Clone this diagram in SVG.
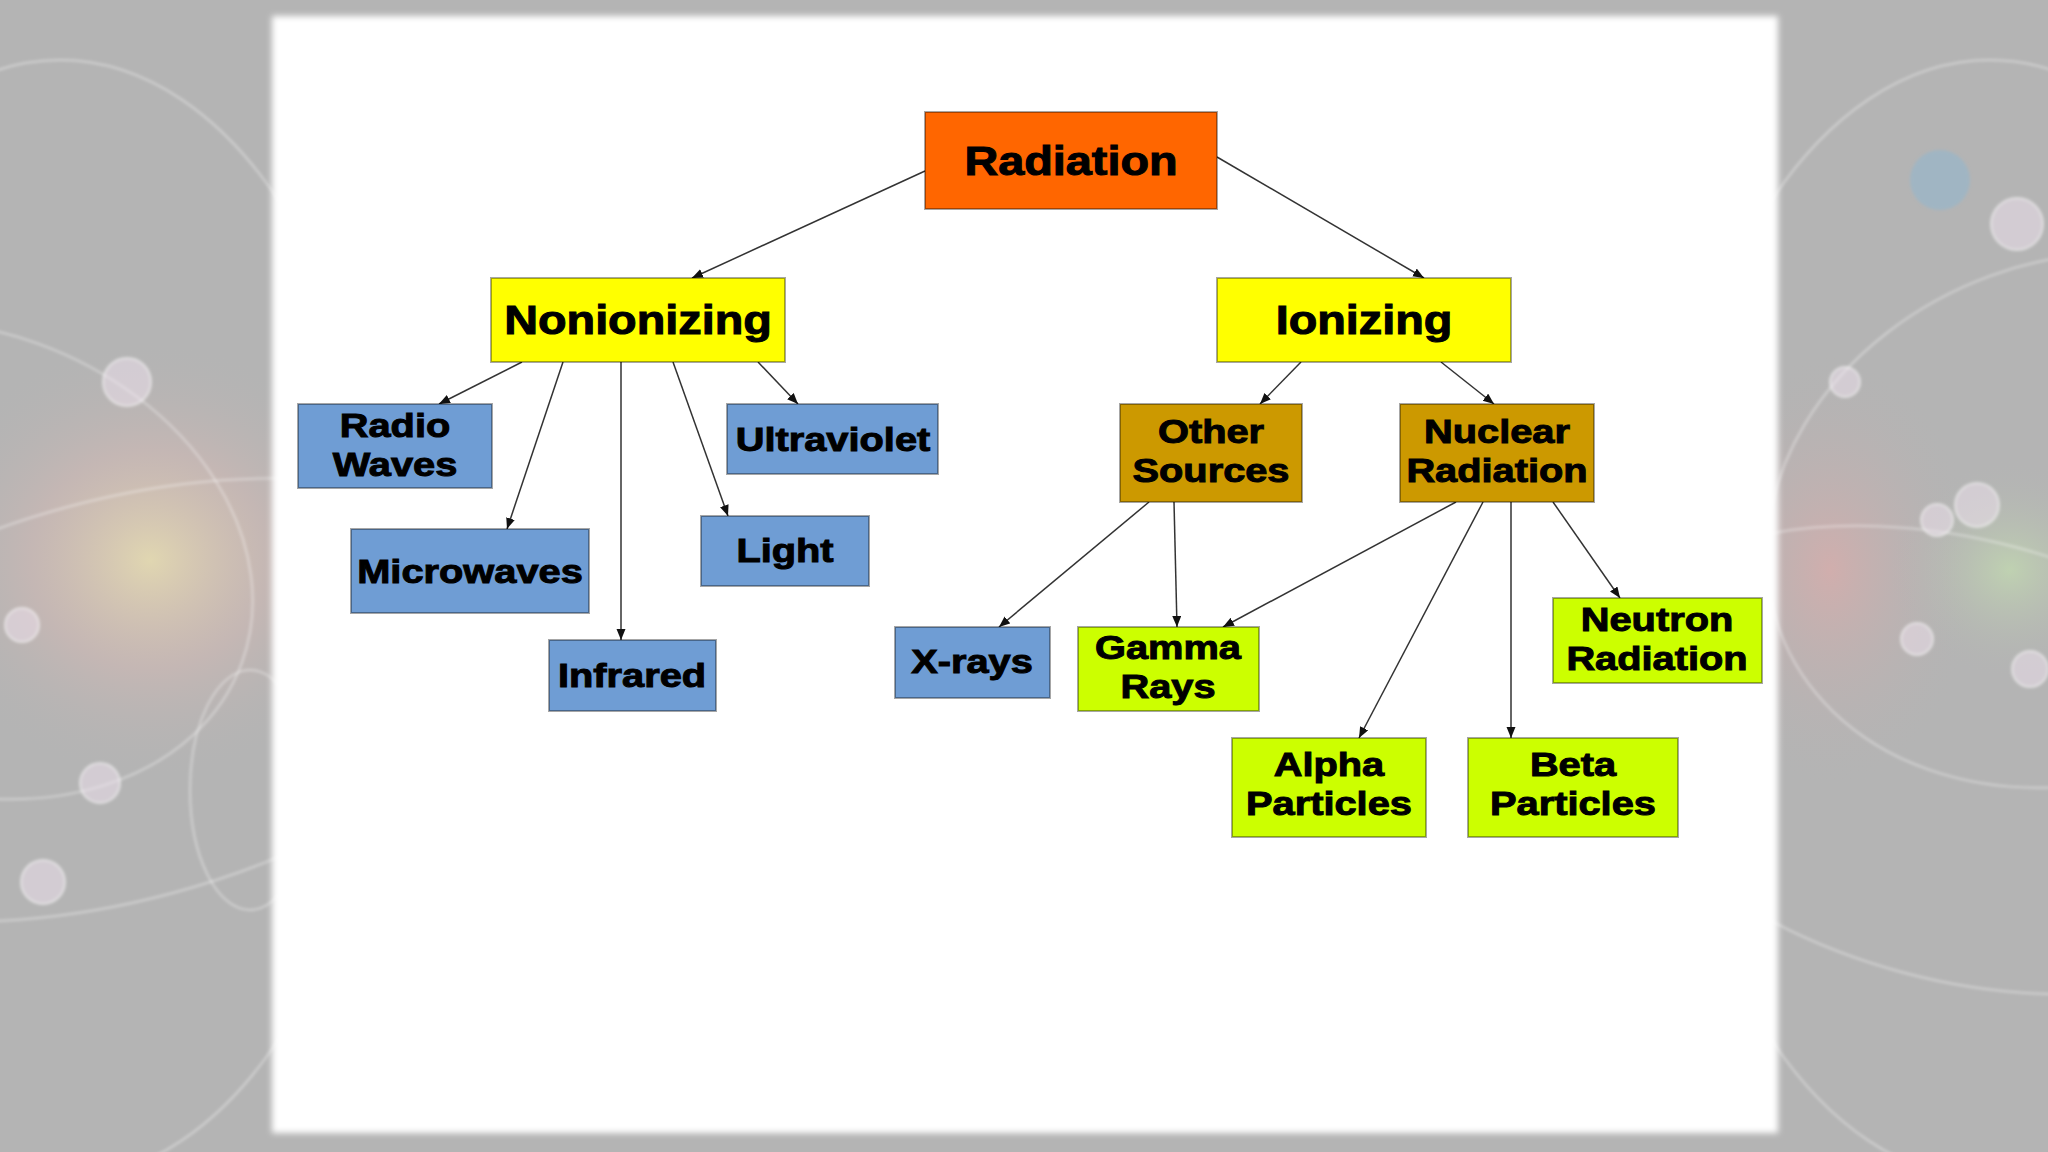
<svg xmlns="http://www.w3.org/2000/svg" width="2048" height="1152" viewBox="0 0 2048 1152">
  <defs>
    <style>
      .box { stroke: rgba(0,0,0,0.35); stroke-width: 2; }
      .orange { fill: #ff6600; }
      .yellow { fill: #ffff00; }
      .blue { fill: #6f9dd4; }
      .gold { fill: #cc9900; }
      .lime { fill: #ccff00; }
      .lbl { font-family: "Liberation Sans", Arial, sans-serif; font-weight: bold; fill: #000; stroke: #000; stroke-width: 1; text-anchor: middle; }
      .big { font-size: 40px; }
      .sm { font-size: 34px; }
      .conn line { stroke: #333; stroke-width: 1.5; marker-end: url(#arr); }
      .orbit { fill: none; stroke: #ffffff; stroke-opacity: 0.4; stroke-width: 2; }
      .dot { fill: #f2e6f2; fill-opacity: 0.5; stroke: #ffffff; stroke-opacity: 0.5; stroke-width: 2; }
    </style>
    <marker id="arr" markerUnits="userSpaceOnUse" markerWidth="12" markerHeight="10" refX="11" refY="4.5" orient="auto">
      <path d="M0,0 L11,4.5 L0,9 z" fill="#111"/>
    </marker>
    <radialGradient id="glowL" cx="0.5" cy="0.5" r="0.5">
      <stop offset="0" stop-color="#efe2b0" stop-opacity="0.75"/>
      <stop offset="0.5" stop-color="#e2bcb4" stop-opacity="0.35"/>
      <stop offset="1" stop-color="#b4b4b4" stop-opacity="0"/>
    </radialGradient>
    <radialGradient id="glowR" cx="0.5" cy="0.5" r="0.5">
      <stop offset="0" stop-color="#e4aaa8" stop-opacity="0.6"/>
      <stop offset="1" stop-color="#b4b4b4" stop-opacity="0"/>
    </radialGradient>
    <radialGradient id="glowG" cx="0.5" cy="0.5" r="0.5">
      <stop offset="0" stop-color="#c4deb0" stop-opacity="0.7"/>
      <stop offset="1" stop-color="#b4b4b4" stop-opacity="0"/>
    </radialGradient>
    <filter id="soft" x="-5%" y="-5%" width="110%" height="110%">
      <feGaussianBlur stdDeviation="3"/>
    </filter>
    <filter id="blur2" x="-20%" y="-20%" width="140%" height="140%">
      <feGaussianBlur stdDeviation="1.5"/>
    </filter>
  </defs>

  <!-- background -->
  <g id="background">
    <rect x="0" y="0" width="2048" height="1152" fill="#b4b4b4"/>
    <ellipse cx="150" cy="560" rx="240" ry="220" fill="url(#glowL)"/>
    <ellipse cx="1830" cy="570" rx="150" ry="220" fill="url(#glowR)"/>
    <ellipse cx="2010" cy="570" rx="120" ry="110" fill="url(#glowG)"/>
    <g filter="url(#blur2)">
      <ellipse class="orbit" cx="60" cy="620" rx="330" ry="560"/>
      <ellipse class="orbit" cx="-40" cy="560" rx="300" ry="230" transform="rotate(20 -40 560)"/>
      <ellipse class="orbit" cx="120" cy="700" rx="420" ry="200" transform="rotate(-15 120 700)"/>
      <ellipse class="orbit" cx="250" cy="790" rx="60" ry="120"/>
      <ellipse class="orbit" cx="1990" cy="620" rx="330" ry="560"/>
      <ellipse class="orbit" cx="2080" cy="520" rx="320" ry="260" transform="rotate(-20 2080 520)"/>
      <ellipse class="orbit" cx="1960" cy="760" rx="380" ry="220" transform="rotate(15 1960 760)"/>
      <circle class="dot" cx="127" cy="382" r="24"/>
      <circle class="dot" cx="22" cy="625" r="17"/>
      <circle class="dot" cx="100" cy="783" r="20"/>
      <circle class="dot" cx="43" cy="882" r="22"/>
      <circle cx="1940" cy="180" r="30" fill="#8fb6d0" fill-opacity="0.55"/>
      <circle class="dot" cx="2017" cy="224" r="26"/>
      <circle class="dot" cx="1845" cy="382" r="15"/>
      <circle class="dot" cx="1977" cy="505" r="22"/>
      <circle class="dot" cx="1937" cy="520" r="16"/>
      <circle class="dot" cx="1917" cy="639" r="16"/>
      <circle class="dot" cx="2030" cy="669" r="18"/>
    </g>
    <rect x="272" y="16" width="1506" height="1117" fill="#ffffff" filter="url(#soft)"/>
  </g>

  <!-- connectors -->
  <g id="connectors" class="conn">
    <line x1="925" y1="171" x2="692" y2="278"/>
    <line x1="1217" y1="157" x2="1424" y2="278"/>
    <line x1="522" y1="362" x2="439" y2="404"/>
    <line x1="563" y1="362" x2="507" y2="529"/>
    <line x1="621" y1="362" x2="621" y2="640"/>
    <line x1="673" y1="362" x2="728" y2="516"/>
    <line x1="758" y1="362" x2="798" y2="404"/>
    <line x1="1301" y1="362" x2="1260" y2="404"/>
    <line x1="1441" y1="362" x2="1494" y2="404"/>
    <line x1="1149" y1="502" x2="999" y2="627"/>
    <line x1="1174" y1="502" x2="1177" y2="627"/>
    <line x1="1456" y1="502" x2="1223" y2="627"/>
    <line x1="1483" y1="502" x2="1359" y2="738"/>
    <line x1="1511" y1="502" x2="1511" y2="738"/>
    <line x1="1553" y1="502" x2="1620" y2="598"/>
  </g>

  <!-- nodes -->
  <g id="node-radiation">
    <rect class="box orange" x="925" y="112" width="292" height="97"/>
    <text class="lbl big" transform="translate(1071,175) scale(1.17,1)">Radiation</text>
  </g>
  <g id="node-nonionizing">
    <rect class="box yellow" x="491" y="278" width="294" height="84"/>
    <text class="lbl big" transform="translate(638,334) scale(1.17,1)">Nonionizing</text>
  </g>
  <g id="node-ionizing">
    <rect class="box yellow" x="1217" y="278" width="294" height="84"/>
    <text class="lbl big" transform="translate(1364,334) scale(1.17,1)">Ionizing</text>
  </g>
  <g id="node-radio-waves">
    <rect class="box blue" x="298" y="404" width="194" height="84"/>
    <text class="lbl sm" transform="translate(395,437) scale(1.17,1)"><tspan x="0" y="0">Radio</tspan><tspan x="0" y="39">Waves</tspan></text>
  </g>
  <g id="node-ultraviolet">
    <rect class="box blue" x="727" y="404" width="211" height="70"/>
    <text class="lbl sm" transform="translate(833,451) scale(1.17,1)">Ultraviolet</text>
  </g>
  <g id="node-microwaves">
    <rect class="box blue" x="351" y="529" width="238" height="84"/>
    <text class="lbl sm" transform="translate(470,583) scale(1.17,1)">Microwaves</text>
  </g>
  <g id="node-light">
    <rect class="box blue" x="701" y="516" width="168" height="70"/>
    <text class="lbl sm" transform="translate(785,562) scale(1.17,1)">Light</text>
  </g>
  <g id="node-infrared">
    <rect class="box blue" x="549" y="640" width="167" height="71"/>
    <text class="lbl sm" transform="translate(632,687) scale(1.17,1)">Infrared</text>
  </g>
  <g id="node-other-sources">
    <rect class="box gold" x="1120" y="404" width="182" height="98"/>
    <text class="lbl sm" transform="translate(1211,443) scale(1.17,1)"><tspan x="0" y="0">Other</tspan><tspan x="0" y="39">Sources</tspan></text>
  </g>
  <g id="node-nuclear-radiation">
    <rect class="box gold" x="1400" y="404" width="194" height="98"/>
    <text class="lbl sm" transform="translate(1497,443) scale(1.17,1)"><tspan x="0" y="0">Nuclear</tspan><tspan x="0" y="39">Radiation</tspan></text>
  </g>
  <g id="node-x-rays">
    <rect class="box blue" x="895" y="627" width="155" height="71"/>
    <text class="lbl sm" transform="translate(972,673) scale(1.17,1)">X-rays</text>
  </g>
  <g id="node-gamma-rays">
    <rect class="box lime" x="1078" y="627" width="181" height="84"/>
    <text class="lbl sm" transform="translate(1168,659) scale(1.17,1)"><tspan x="0" y="0">Gamma</tspan><tspan x="0" y="39">Rays</tspan></text>
  </g>
  <g id="node-neutron-radiation">
    <rect class="box lime" x="1553" y="598" width="209" height="85"/>
    <text class="lbl sm" transform="translate(1657,631) scale(1.17,1)"><tspan x="0" y="0">Neutron</tspan><tspan x="0" y="39">Radiation</tspan></text>
  </g>
  <g id="node-alpha-particles">
    <rect class="box lime" x="1232" y="738" width="194" height="99"/>
    <text class="lbl sm" transform="translate(1329,776) scale(1.17,1)"><tspan x="0" y="0">Alpha</tspan><tspan x="0" y="39">Particles</tspan></text>
  </g>
  <g id="node-beta-particles">
    <rect class="box lime" x="1468" y="738" width="210" height="99"/>
    <text class="lbl sm" transform="translate(1573,776) scale(1.17,1)"><tspan x="0" y="0">Beta</tspan><tspan x="0" y="39">Particles</tspan></text>
  </g>
</svg>
